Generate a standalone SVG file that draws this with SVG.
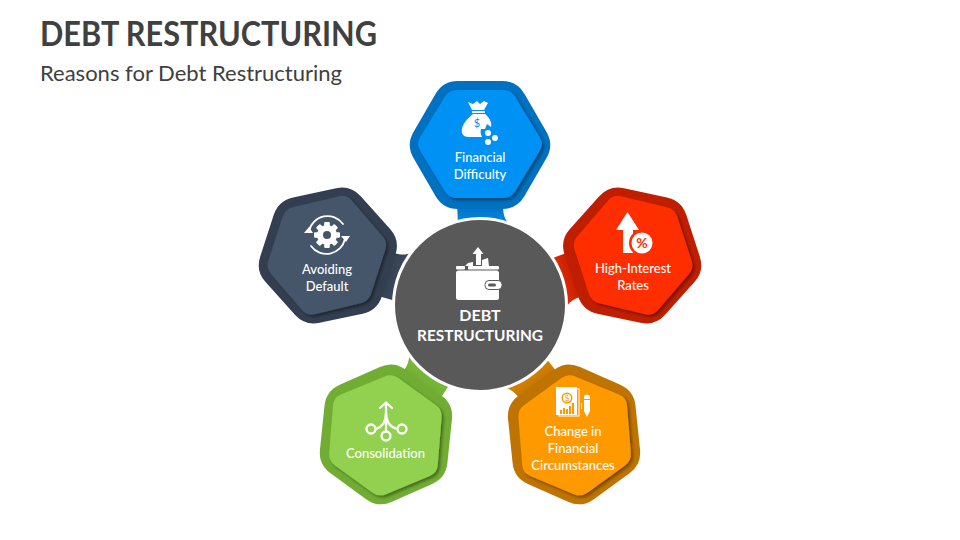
<svg xmlns="http://www.w3.org/2000/svg" width="960" height="540" viewBox="0 0 960 540">
<style>
text{font-family:"Lato","Open Sans","Liberation Sans",sans-serif}
.t{font-size:13px;font-weight:500;fill:#fff;text-anchor:middle}
.w{fill:#fff}
.ln{fill:none;stroke:#fff;stroke-linecap:round;stroke-linejoin:round}
</style>
<defs>
<path id="hexO" d="M458,81 H502 Q517,81 524.500,94 L546.500,132 Q554,145 546.500,158 L524.500,196 Q517,209 502,209 H458 Q443,209 435.500,196 L413.500,158 Q406,145 413.500,132 L435.500,94 Q443,81 458,81 Z"/>
<path id="hexI" d="M457,90 H503 Q511,90 515.200,96.800 L539.800,137.200 Q544,144 539.800,150.800 L515.200,191.200 Q511,198 503,198 H457 Q449,198 444.800,191.200 L420.200,150.800 Q416,144 420.200,137.200 L444.800,96.800 Q449,90 457,90 Z"/>
<path id="neck" d="M457,200 H503 C503,212 503,217 509,224 L458,228 Z"/>
<linearGradient id="gB" gradientUnits="userSpaceOnUse" x1="0" y1="205" x2="0" y2="222"><stop offset="0" stop-color="#0070c0"/><stop offset="1" stop-color="#0088e0"/></linearGradient>
<linearGradient id="gR" gradientUnits="userSpaceOnUse" x1="0" y1="205" x2="0" y2="222"><stop offset="0" stop-color="#bf1f00"/><stop offset="1" stop-color="#e62a05"/></linearGradient>
<linearGradient id="gO" gradientUnits="userSpaceOnUse" x1="0" y1="205" x2="0" y2="222"><stop offset="0" stop-color="#bf7300"/><stop offset="1" stop-color="#d88400"/></linearGradient>
<linearGradient id="gG" gradientUnits="userSpaceOnUse" x1="0" y1="205" x2="0" y2="222"><stop offset="0" stop-color="#70ad32"/><stop offset="1" stop-color="#7cba3c"/></linearGradient>
<linearGradient id="gD" gradientUnits="userSpaceOnUse" x1="0" y1="205" x2="0" y2="222"><stop offset="0" stop-color="#333f50"/><stop offset="1" stop-color="#3c4a5e"/></linearGradient>
<filter id="sh" x="-15%" y="-15%" width="130%" height="130%"><feDropShadow dx="2" dy="2" stdDeviation="1.500" flood-color="#000" flood-opacity="0.4"/></filter>
</defs>

<text x="40" y="46" font-size="34" font-weight="700" fill="#404040" textLength="337" lengthAdjust="spacingAndGlyphs">DEBT RESTRUCTURING</text>
<text x="40" y="81" font-size="21" fill="#404040" textLength="302" lengthAdjust="spacingAndGlyphs">Reasons for Debt Restructuring</text>

<g id="connectors">
<use href="#neck" fill="url(#gB)"/>
<use href="#neck" fill="url(#gR)" transform="rotate(72 480 305)"/>
<use href="#neck" fill="url(#gO)" transform="rotate(144 480 305)"/>
<use href="#neck" fill="url(#gG)" transform="rotate(216 480 305)"/>
<use href="#neck" fill="url(#gD)" transform="rotate(288 480 305)"/>
</g>

<g id="node-financial-difficulty">
<use href="#hexO" fill="#0070c0"/>
<g filter="url(#sh)"><use href="#hexI" fill="#0091f5"/></g>
<path class="w" d="M468,102 L473,104 L477,101 L480,104 L484,101 L488,103 L484,110 L472,110 Z"/>
<rect class="w" x="472" y="111" width="13" height="2"/>
<path class="w" d="M473,114 H485 C490,118 492,123 491,127 L487,124 L485,129 L481,129 C480,132 481,135 482,137 H468 C463,137 461,133 462,129 C463,123 468,118 473,114 Z"/>
<text x="477" y="127" font-size="11" text-anchor="middle" fill="#0091f5">$</text>
<circle class="w" cx="488" cy="133" r="3"/><circle class="w" cx="495" cy="138" r="3"/><circle class="w" cx="488" cy="142" r="3"/>
<text class="t" x="480" y="162">Financial</text>
<text class="t" x="480" y="179">Difficulty</text>
</g>

<g id="node-high-interest-rates">
<use href="#hexO" fill="#bf1f00" transform="rotate(72 480 305)"/>
<g filter="url(#sh)"><use href="#hexI" fill="#ff2d00" transform="rotate(72 480 305)"/></g>
<path class="w" d="M627.500,212 L639,230 H633 V253 H623 V230 H616 Z"/>
<circle cx="642" cy="243" r="13" fill="#ff2d00"/>
<circle class="w" cx="642" cy="243" r="10.500"/>
<text x="642" y="248" font-size="14" font-weight="700" text-anchor="middle" fill="#ff2d00">%</text>
<text class="t" x="633" y="273">High-Interest</text>
<text class="t" x="633" y="290">Rates</text>
</g>

<g id="node-change-in-financial-circumstances">
<use href="#hexO" fill="#bf7300" transform="rotate(144 480 305)"/>
<g filter="url(#sh)"><use href="#hexI" fill="#ff9900" transform="rotate(144 480 305)"/></g>
<rect x="559" y="389" width="20" height="27" fill="none" stroke="#fff" stroke-width="1"/>
<rect class="w" x="556" y="387" width="21" height="28"/>
<circle cx="567" cy="398" r="5.500" fill="#ff9900"/><circle class="w" cx="567" cy="398" r="4"/>
<text x="567" y="401" font-size="8" text-anchor="middle" fill="#ff9900">$</text>
<path fill="#ff9900" d="M560,414 V410 H562 V414 Z M563,414 V408 H565 V414 Z M566,414 V409 H568 V414 Z M569,414 V406 H571 V414 Z M572,414 V403 H574 V414 Z"/>
<path class="w" d="M584,396 Q587,393 590,396 V411 L587,417 L584,411 Z"/>
<path fill="#ff9900" d="M584,399 H590 V400 H584 Z"/>
<rect class="w" x="581" y="403" width="1" height="6"/>
<text class="t" x="573" y="436">Change in</text>
<text class="t" x="573" y="453">Financial</text>
<text class="t" x="573" y="470">Circumstances</text>
</g>

<g id="node-consolidation">
<use href="#hexO" fill="#70ad32" transform="rotate(216 480 305)"/>
<g filter="url(#sh)"><use href="#hexI" fill="#92d050" transform="rotate(216 480 305)"/></g>
<g class="ln" stroke-width="2.300">
<path d="M380,408 L386,402.500 L392,408 M386,403 V430"/>
<path d="M386,413 C386,422 382,427 376,429 M386,413 C386,422 390,427 397,429"/>
<circle cx="371" cy="429" r="4.500"/><circle cx="402" cy="429" r="4.500"/><circle cx="386" cy="436" r="4.500"/>
</g>
<text class="t" x="385.500" y="458">Consolidation</text>
</g>

<g id="node-avoiding-default">
<use href="#hexO" fill="#333f50" transform="rotate(288 480 305)"/>
<g filter="url(#sh)"><use href="#hexI" fill="#44546a" transform="rotate(288 480 305)"/></g>
<g transform="translate(327 235)">
<g class="w"><circle r="10"/>
<rect x="-2.800" y="-13" width="5.600" height="26" rx="1"/>
<rect x="-2.800" y="-13" width="5.600" height="26" rx="1" transform="rotate(45)"/>
<rect x="-2.800" y="-13" width="5.600" height="26" rx="1" transform="rotate(90)"/>
<rect x="-2.800" y="-13" width="5.600" height="26" rx="1" transform="rotate(135)"/></g>
<circle r="4" fill="#44546a"/>
</g>
<path class="ln" stroke-width="1.800" d="M309,231 A19,19 0 0 1 343,224"/>
<path class="ln" stroke-width="1.800" d="M345,239 A19,19 0 0 1 311,246"/>
<path class="w" d="M304,233 L309,227 L313,233 Z"/>
<path class="w" d="M341,236 L350,236 L346,242 Z"/>
<text class="t" x="327" y="274">Avoiding</text>
<text class="t" x="327" y="291">Default</text>
</g>

<g id="node-debt-restructuring">
<circle cx="480" cy="305" r="86.500" fill="#595959" stroke="#fff" stroke-width="3"/>
<path class="w" d="M478,247 L483.500,254 H481 V265 H476 V254 H472.500 Z"/>
<path class="w" d="M465,266 L468,263 L473,262 V266 Z M482,266 V260 L488,258 L489,266 Z"/>
<rect class="w" x="456" y="266" width="9" height="3.500" rx="1"/>
<rect class="w" x="468" y="266" width="31" height="3.500" rx="1"/>
<rect class="w" x="456" y="270.500" width="43" height="29.500" rx="2.500"/>
<rect x="485" y="280.500" width="17" height="9" rx="4" fill="#fff" stroke="#595959"/>
<rect x="488" y="283.500" width="8" height="3" rx="1.500" fill="#595959"/>
<text x="480" y="321" font-size="16" font-weight="700" fill="#fff" text-anchor="middle">DEBT</text>
<text x="480" y="341" font-size="16" font-weight="700" fill="#fff" text-anchor="middle" textLength="126" lengthAdjust="spacingAndGlyphs">RESTRUCTURING</text>
</g>
</svg>
